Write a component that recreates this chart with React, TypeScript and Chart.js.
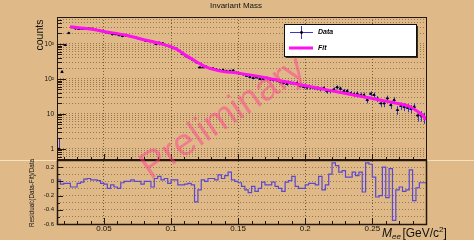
import React, { useEffect, useRef } from 'react';
import { Chart, registerables } from 'chart.js';

Chart.register(...registerables);

// ---------- data ----------
const X_MIN = 0.015;
const X_MAX = 0.29;
const BIN_WIDTH = 0.0025;

const Y_MIN = 0.48;
const Y_MAX = 5900;
const RES_MIN = -0.6;
const RES_MAX = 0.3;

const COUNTS = [
  1, 160, 940, 2050, 3000, 2770, 2700, 2760, 2745, 2785,
  2720, 2560, 2460, 2340, 2160, 2065, 1882, 1905, 1785, 1690,
  1747, 1690, 1596, 1545, 1429, 1352, 1233, 1216, 1156, 1016,
  1089, 1047, 925, 877, 760, 726, 632, 513, 446, 394,
  348, 301, 214, 217, 223, 204, 199, 187, 174, 182,
  168, 170, 175, 151, 144, 136, 125, 115, 107, 111,
  101, 101, 106, 97, 93, 92, 83, 78, 72, 77,
  75, 77, 64, 60, 57, 57, 56, 54, 51, 55,
  44, 45, 50, 58, 53, 45, 45, 39, 37, 38,
  35, 35, 25, 38, 35, 27, 20, 20, 28, 18,
  25, 13, 17, 16, 15, 14, 16, 9, 9, 8,
];

const RESIDUALS = [
  0.02, 0.02, -0.04, -0.03, -0.03, -0.08, -0.08, -0.03, -0.01, 0.03,
  0.04, 0.02, 0.02, 0.01, -0.03, -0.04, -0.1, -0.05, -0.08, -0.1,
  -0.02, 0.0, 0.0, 0.02, 0.0, 0.0, -0.04, 0.0, 0.0, -0.08,
  0.04, 0.07, 0.02, 0.04, -0.03, 0.02, 0.02, -0.05, -0.05, -0.04,
  -0.03, -0.05, -0.29, -0.12, 0.02, 0.0, 0.04, 0.04, 0.02, 0.09,
  0.04, 0.08, 0.13, 0.02, 0.0, -0.02, -0.07, -0.12, -0.16, -0.07,
  -0.14, -0.1, -0.01, -0.05, -0.05, -0.01, -0.07, -0.1, -0.14, -0.01,
  0.01, 0.07, -0.07, -0.1, -0.1, -0.05, -0.03, -0.03, -0.05, 0.07,
  -0.12, -0.05, 0.1, 0.26, 0.22, 0.13, 0.15, 0.06, 0.06, 0.13,
  0.08, 0.13, -0.15, 0.26, 0.24, 0.06, -0.22, -0.2, 0.2, -0.23,
  0.18, -0.55, -0.12, -0.08, -0.14, -0.12, 0.16, -0.27, -0.09, -0.02,
];

const FIT_X = [
  0.0247, 0.0396, 0.0508, 0.0657, 0.0806, 0.0918, 0.1029, 0.1126, 0.1193, 0.1253,
  0.135, 0.1514, 0.1723, 0.1974, 0.2185, 0.2431, 0.2684, 0.2781, 0.284, 0.2878, 0.29,
];
const FIT_Y = [
  3120, 2680, 2245, 1808, 1301, 1033, 744, 434, 306, 224,
  173, 144, 105, 67, 47, 31, 20, 16, 11.6, 8.8, 6.7,
];

const X_TICKS = [0.05, 0.1, 0.15, 0.2, 0.25];
const LOG_DECADES = [0.1, 1, 10, 100, 1000];
const LOG_MULTIPLES = [1, 2, 3, 4, 5, 6, 7, 8, 9];
const LOG_LABELS: Record<string, string> = { '1': '1', '10': '10', '100': '10²', '1000': '10³' };
const RES_LABELS = [0.2, 0, -0.2, -0.4, -0.6];

// ---------- style ----------
const FONT = '"Liberation Sans", Arial, Helvetica, sans-serif';
const BG = '#dfba88';
const GRID = 'rgba(80, 52, 18, 0.5)';
const FRAME = '#24170a';
const ERR = '#3b36c8';
const RES_COLOR = '#5a48d2';
const FIT_COLOR = '#ff10f0';

const logTicks = LOG_DECADES.flatMap((d) => LOG_MULTIPLES.map((m) => +(m * d).toPrecision(3)))
  .filter((v) => v >= Y_MIN && v <= Y_MAX);
const resTicks: number[] = [];
for (let k = Math.round(RES_MIN * 10); k <= Math.round(RES_MAX * 10); k++) resTicks.push(k / 10);

const binCenter = (i: number) => X_MIN + (i + 0.5) * BIN_WIDTH;

const decor = {
  id: 'decor',
  beforeDraw(chart: any) {
    const { ctx, width, height } = chart;
    ctx.save();
    ctx.fillStyle = BG;
    ctx.fillRect(0, 0, width, height);
    const y = chart.scales.y;
    ctx.strokeStyle = 'rgba(255, 238, 205, 0.8)';
    ctx.lineWidth = 1;
    ctx.beginPath();
    ctx.moveTo(0, Math.round(y.bottom) + 0.5);
    ctx.lineTo(width, Math.round(y.bottom) + 0.5);
    ctx.stroke();
    ctx.restore();
  },
  beforeDatasetDraw(chart: any, args: any) {
    if (args.index !== 0) return;
    const { ctx } = chart;
    const xs = chart.scales.x;
    const ys = chart.scales.y;
    ctx.save();
    ctx.beginPath();
    ctx.rect(xs.left, ys.top, xs.right - xs.left, ys.bottom - ys.top);
    ctx.clip();
    ctx.strokeStyle = ERR;
    ctx.lineWidth = 1;
    COUNTS.forEach((n, i) => {
      const c = binCenter(i);
      const px = Math.round(xs.getPixelForValue(c)) + 0.5;
      const py = ys.getPixelForValue(n);
      const e = Math.sqrt(n);
      const top = ys.getPixelForValue(n + e);
      const bot = n - e > 0 ? ys.getPixelForValue(n - e) : py;
      ctx.beginPath();
      ctx.moveTo(px, top);
      ctx.lineTo(px, bot);
      ctx.moveTo(xs.getPixelForValue(c - BIN_WIDTH / 2), Math.round(py) + 0.5);
      ctx.lineTo(xs.getPixelForValue(c + BIN_WIDTH / 2), Math.round(py) + 0.5);
      ctx.stroke();
    });
    ctx.restore();
  },
  afterDraw(chart: any) {
    const { ctx } = chart;
    const xs = chart.scales.x;
    const ys = chart.scales.y;
    const rs = chart.scales.y2;
    ctx.save();

    // inner tick marks
    ctx.strokeStyle = FRAME;
    ctx.lineWidth = 1;
    ctx.beginPath();
    logTicks.forEach((v) => {
      const py = Math.round(ys.getPixelForValue(v)) + 0.5;
      const len = LOG_LABELS[String(v)] ? 9 : 5;
      ctx.moveTo(xs.left, py);
      ctx.lineTo(xs.left + len, py);
    });
    resTicks.forEach((v) => {
      const py = Math.round(rs.getPixelForValue(v)) + 0.5;
      const len = Math.round(v * 10) % 2 === 0 ? 6 : 3;
      ctx.moveTo(xs.left, py);
      ctx.lineTo(xs.left + len, py);
    });
    for (let k = 2; k <= 29; k++) {
      const v = k / 100;
      const px = Math.round(xs.getPixelForValue(v)) + 0.5;
      const len = k % 5 === 0 ? 6 : 3;
      ctx.moveTo(px, ys.bottom);
      ctx.lineTo(px, ys.bottom - len);
      ctx.moveTo(px, rs.bottom);
      ctx.lineTo(px, rs.bottom - len);
    }
    ctx.stroke();

    // frames
    ctx.strokeStyle = FRAME;
    ctx.lineWidth = 1;
    ctx.strokeRect(Math.round(xs.left) + 0.5, Math.round(ys.top) + 0.5,
      Math.round(xs.right - xs.left), Math.round(ys.bottom - ys.top));
    ctx.lineWidth = 1.5;
    ctx.strokeRect(Math.round(xs.left) + 0.5, Math.round(rs.top) + 0.5,
      Math.round(xs.right - xs.left), Math.round(rs.bottom - rs.top));
    ctx.lineWidth = 2;
    ctx.beginPath();
    ctx.moveTo(xs.left, Math.round(ys.bottom));
    ctx.lineTo(xs.right, Math.round(ys.bottom));
    ctx.stroke();

    // legend
    const lx = 284, ly = 24, lw = 132, lh = 32;
    ctx.fillStyle = '#3a2a18';
    ctx.fillRect(lx + 2, ly + 2, lw, lh);
    ctx.fillStyle = '#ffffff';
    ctx.fillRect(lx, ly, lw, lh);
    ctx.strokeStyle = '#111';
    ctx.lineWidth = 1;
    ctx.strokeRect(lx + 0.5, ly + 0.5, lw, lh);
    // Data entry
    ctx.strokeStyle = ERR;
    ctx.beginPath();
    ctx.moveTo(290, 32.5);
    ctx.lineTo(313, 32.5);
    ctx.moveTo(301.5, 26);
    ctx.lineTo(301.5, 39);
    ctx.stroke();
    ctx.fillStyle = '#000';
    ctx.beginPath();
    ctx.arc(301.5, 32.5, 1.4, 0, Math.PI * 2);
    ctx.fill();
    // Fit entry
    ctx.strokeStyle = FIT_COLOR;
    ctx.lineWidth = 3;
    ctx.beginPath();
    ctx.moveTo(289, 48);
    ctx.lineTo(313, 48);
    ctx.stroke();
    ctx.fillStyle = '#000';
    ctx.font = `italic bold 7px ${FONT}`;
    ctx.textAlign = 'left';
    ctx.textBaseline = 'middle';
    ctx.fillText('Data', 318, 32.5);
    ctx.fillText('Fit', 318, 48);

    // title
    ctx.font = `8px ${FONT}`;
    ctx.textAlign = 'center';
    ctx.fillStyle = '#111';
    ctx.fillText('Invariant Mass', 236, 6);

    // y titles
    ctx.save();
    ctx.translate(40, 35);
    ctx.rotate(-Math.PI / 2);
    ctx.font = `10.5px ${FONT}`;
    ctx.fillText('counts', 0, 0);
    ctx.restore();
    ctx.save();
    ctx.translate(32, 193);
    ctx.rotate(-Math.PI / 2);
    ctx.font = `6.3px ${FONT}`;
    ctx.fillText('Residual:(Data-Fit)/Data', 0, 0);
    ctx.restore();

    // x title: M_ee [GeV/c^2]
    ctx.textAlign = 'left';
    ctx.textBaseline = 'alphabetic';
    let tx = 382;
    const by = 237;
    ctx.font = `italic 12px ${FONT}`;
    ctx.fillText('M', tx, by);
    tx += ctx.measureText('M').width;
    ctx.font = `italic 8px ${FONT}`;
    ctx.fillText('ee', tx, by + 2);
    tx += ctx.measureText('ee').width + 1.5;
    ctx.font = `12px ${FONT}`;
    ctx.fillText('[GeV/c', tx, by);
    tx += ctx.measureText('[GeV/c').width;
    ctx.font = `8px ${FONT}`;
    ctx.fillText('2', tx, by - 5);
    tx += ctx.measureText('2').width;
    ctx.font = `12px ${FONT}`;
    ctx.fillText(']', tx, by);

    // watermark
    ctx.save();
    ctx.translate(229, 127);
    ctx.rotate((-34 * Math.PI) / 180);
    ctx.font = `38px ${FONT}`;
    ctx.textAlign = 'center';
    ctx.textBaseline = 'alphabetic';
    ctx.fillStyle = 'rgba(255, 60, 145, 0.5)';
    ctx.fillText('Preliminary', 0, 0);
    ctx.restore();

    ctx.restore();
  },
};

export default function App() {
  const ref = useRef<HTMLCanvasElement>(null);

  useEffect(() => {
    const dataPoints = COUNTS.map((c, i) => ({ x: binCenter(i), y: c }));
    const fitPoints = FIT_X.map((x, i) => ({ x, y: FIT_Y[i] }));
    const resPoints = RESIDUALS.map((r, i) => ({ x: X_MIN + i * BIN_WIDTH, y: r }));
    resPoints.push({ x: X_MAX, y: RESIDUALS[RESIDUALS.length - 1] });

    const chart = new Chart(ref.current as HTMLCanvasElement, {
      type: 'scatter',
      data: {
        datasets: [
          {
            type: 'scatter',
            label: 'Data',
            data: dataPoints,
            xAxisID: 'x',
            yAxisID: 'y',
            pointRadius: 1.2,
            pointBackgroundColor: '#000',
            pointBorderWidth: 0,
            order: 1,
          },
          {
            type: 'line',
            label: 'Fit',
            data: fitPoints,
            xAxisID: 'x',
            yAxisID: 'y',
            borderColor: FIT_COLOR,
            borderWidth: 3,
            pointRadius: 0,
            cubicInterpolationMode: 'monotone',
            order: 0,
          },
          {
            type: 'line',
            label: 'Residual',
            data: resPoints,
            xAxisID: 'x',
            yAxisID: 'y2',
            borderColor: RES_COLOR,
            borderWidth: 1.2,
            pointRadius: 0,
            stepped: 'after',
            order: 2,
          },
        ],
      } as any,
      options: {
        animation: false,
        responsive: false,
        devicePixelRatio: 1,
        layout: { padding: { left: 0, right: 48, top: 17, bottom: 0 } },
        plugins: {
          legend: { display: false },
          tooltip: { enabled: false },
          title: { display: false },
        },
        scales: {
          x: {
            type: 'linear',
            position: 'bottom',
            min: X_MIN,
            max: X_MAX,
            afterBuildTicks: (s: any) => {
              s.ticks = X_TICKS.map((v) => ({ value: v }));
            },
            afterFit: (s: any) => {
              s.height = 16;
            },
            ticks: {
              autoSkip: false,
              maxRotation: 0,
              padding: 0,
              color: '#111',
              font: { family: FONT, size: 8 },
              callback: (v: any) => String(+Number(v).toFixed(2)),
            },
            grid: { color: 'rgba(60, 38, 10, 0.65)', drawTicks: false, lineWidth: 1 },
            border: { display: false, dash: [1, 2] },
          },
          y2: {
            type: 'linear',
            position: 'left',
            stack: 'panels',
            stackWeight: 64,
            min: RES_MIN,
            max: RES_MAX,
            afterBuildTicks: (s: any) => {
              s.ticks = resTicks.map((v) => ({ value: v }));
            },
            afterFit: (s: any) => {
              s.width = 57;
            },
            ticks: {
              autoSkip: false,
              padding: 3,
              color: '#111',
              font: { family: FONT, size: 6 },
              callback: (v: any) => {
                const n = Math.round(Number(v) * 10) / 10;
                return RES_LABELS.includes(n) ? String(n) : '';
              },
            },
            grid: { color: GRID, drawTicks: false, lineWidth: 1 },
            border: { display: false, dash: [1, 2] },
          },
          y: {
            type: 'logarithmic',
            position: 'left',
            stack: 'panels',
            stackWeight: 143,
            min: Y_MIN,
            max: Y_MAX,
            afterBuildTicks: (s: any) => {
              s.ticks = logTicks.map((v) => ({ value: v }));
            },
            afterFit: (s: any) => {
              s.width = 57;
            },
            ticks: {
              autoSkip: false,
              padding: 3,
              color: '#111',
              font: { family: FONT, size: 6.5 },
              callback: (v: any) => LOG_LABELS[String(+Number(v).toPrecision(3))] ?? '',
            },
            grid: { color: GRID, drawTicks: false, lineWidth: 1 },
            border: { display: false, dash: [1, 2] },
          },
        },
      } as any,
      plugins: [decor],
    });
    return () => chart.destroy();
  }, []);

  return (
    <div style={{ position: 'fixed', left: 0, top: 0, width: 474, height: 240 }}>
      <canvas ref={ref} width={474} height={240} style={{ display: 'block', width: 474, height: 240 }} />
    </div>
  );
}
